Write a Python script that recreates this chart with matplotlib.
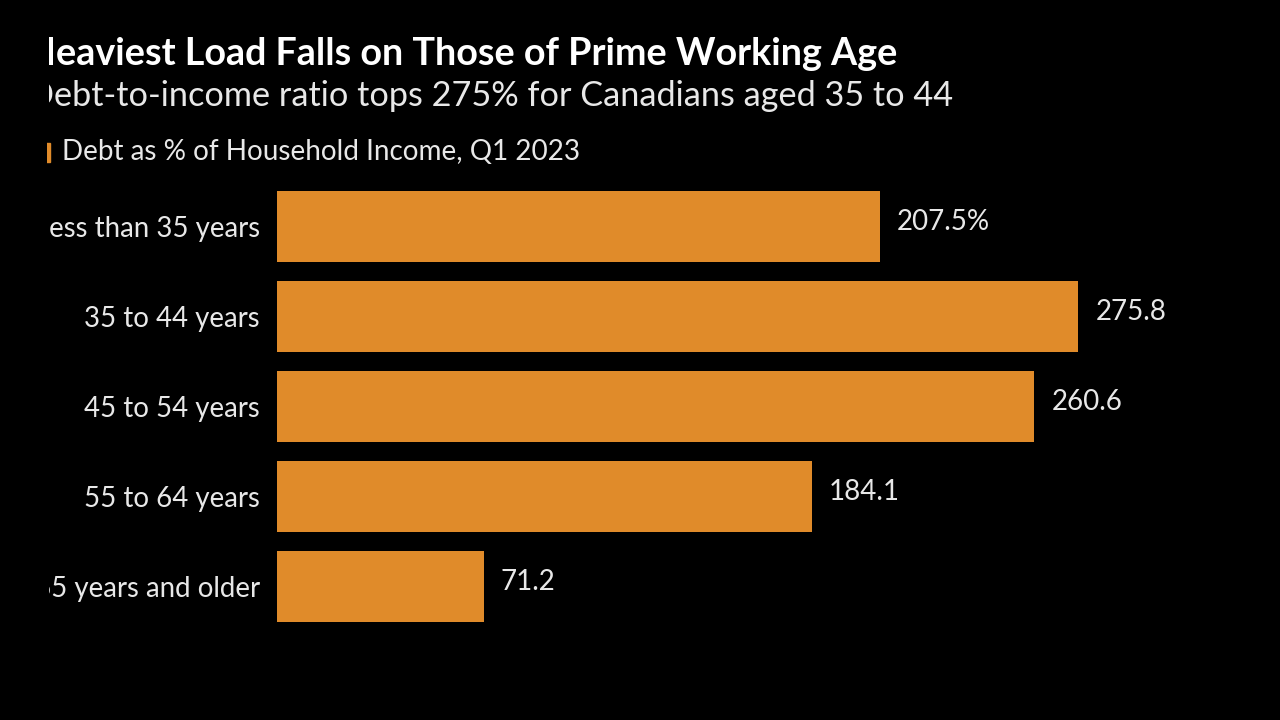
import matplotlib
matplotlib.use("Agg")
import matplotlib.pyplot as plt
from matplotlib.transforms import Affine2D, Bbox
from matplotlib.patches import Rectangle

plt.rcParams['font.family'] = ['Lato', 'DejaVu Sans']

# data
groups = ["Less than 35 years", "35 to 44 years", "45 to 54 years",
          "55 to 64 years", "65 years and older"]
debt_ratio = [207.5, 275.8, 260.6, 184.1, 71.2]
value_labels = ["207.5%", "275.8", "260.6", "184.1", "71.2"]

title = "Heaviest Load Falls on Those of Prime Working Age"
subtitle = "Debt-to-income ratio tops 275% for Canadians aged 35 to 44"
legend_label = "Debt as % of Household Income, Q1 2023"

BAR = "#E08B2A"
TXT = "#E8E8E8"
W, H = 1280, 720

fig = plt.figure(figsize=(12.8, 7.2), dpi=100, facecolor="black")
# pixel coords, origin top-left
pix = Affine2D().scale(1 / W, -1 / H).translate(0, 1) + fig.transFigure
# the source image is cropped on the left
clip = Bbox.from_extents(48.5, 0, W, H)

ax = fig.add_axes([277 / W, 1 - 631.5 / H, 1003 / W, 450 / H])
ax.set_facecolor("black")
ax.barh(range(len(groups)), debt_ratio, height=0.79, color=BAR)
ax.set_xlim(0, 1003 / 2.906)
ax.set_ylim(len(groups) - 0.5, -0.5)
ax.set_xticks([])
ax.set_yticks(range(len(groups)), groups)
ax.tick_params(axis="y", length=0, pad=12.2, labelsize=19.7, labelcolor=TXT)
for s in ax.spines.values():
    s.set_visible(False)

vals = []
for i, (v, lab) in enumerate(zip(debt_ratio, value_labels)):
    vals.append(ax.annotate(lab, (v, i), xytext=(12.3, 3), textcoords="offset points",
                            va="center", ha="left", color=TXT, fontsize=20))

t1 = fig.text(27, 65, title, transform=pix, color="white", fontsize=21,
              fontweight="bold", va="baseline")
t2 = fig.text(28, 106, subtitle, transform=pix, color=TXT, fontsize=20,
              va="baseline")
t3 = fig.text(62, 160, legend_label, transform=pix, color=TXT, fontsize=17,
              va="baseline")

key = Rectangle((35, 143), 15, 19, transform=pix, color=BAR)
fig.add_artist(key)

# match text widths to the reference
targets = {t1: 871, t2: 923, t3: 521}
for _ in range(2):
    fig.canvas.draw()
    r = fig.canvas.get_renderer()
    for t, w in targets.items():
        cur = t.get_window_extent(r).width
        t.set_fontsize(t.get_fontsize() * w / cur)
    lab = ax.get_yticklabels()[1]
    size = lab.get_fontsize() * 175 / lab.get_window_extent(r).width
    ax.tick_params(axis="y", labelsize=size)
    vsize = vals[0].get_fontsize() * 93 / vals[0].get_window_extent(r).width
    for a in vals:
        a.set_fontsize(vsize)

for a in [t1, t2, t3] + list(ax.get_yticklabels()):
    a.set_clip_on(True)
    a.set_clip_box(clip)
key.set_clip_box(Bbox.from_extents(47, 0, W, H))

fig.savefig("out.png", dpi=100, facecolor="black")
